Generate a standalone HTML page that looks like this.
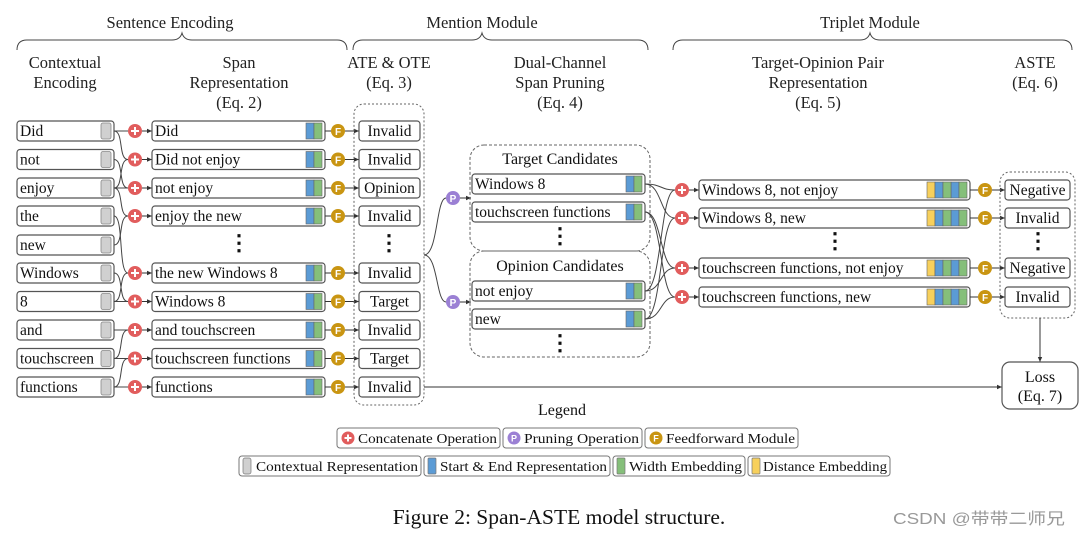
<!DOCTYPE html>
<html><head><meta charset="utf-8"><style>
html,body{margin:0;padding:0;background:#fff;}
svg{display:block;font-family:"Liberation Serif","Times New Roman",serif;}
</style></head><body>
<svg width="1080" height="537" viewBox="0 0 1080 537" xmlns="http://www.w3.org/2000/svg">
<defs>
<marker id="a" markerWidth="6" markerHeight="6" refX="5" refY="3" orient="auto"><path d="M0,0.8 L5,3 L0,5.2z" fill="#333"/></marker>
</defs>
<g font-size="16.5" fill="#222" text-anchor="middle">
<text x="170" y="28">Sentence Encoding</text>
<text x="482" y="28">Mention Module</text>
<text x="870" y="28">Triplet Module</text>
<text x="65" y="68">Contextual</text><text x="65" y="88">Encoding</text>
<text x="239" y="68">Span</text><text x="239" y="88">Representation</text><text x="239" y="108">(Eq. 2)</text>
<text x="389" y="68">ATE &amp; OTE</text><text x="389" y="88">(Eq. 3)</text>
<text x="560" y="68">Dual-Channel</text><text x="560" y="88">Span Pruning</text><text x="560" y="108">(Eq. 4)</text>
<text x="818" y="68">Target-Opinion Pair</text><text x="818" y="88">Representation</text><text x="818" y="108">(Eq. 5)</text>
<text x="1035" y="68">ASTE</text><text x="1035" y="88">(Eq. 6)</text>
</g>
<g fill="none" stroke="#444" stroke-width="1">
<path d="M17,50 Q17,40 27,40 L172,40 Q180,40 182,33 Q184,40 192,40 L337,40 Q347,40 347,50"/>
<path d="M353,50 Q353,40 363,40 L472,40 Q480,40 482,33 Q484,40 492,40 L638,40 Q648,40 648,50"/>
<path d="M673,50 Q673,40 683,40 L860,40 Q868,40 870,33 Q872,40 880,40 L1062,40 Q1072,40 1072,50"/>
</g>
<g stroke="#555" stroke-width="1.2" fill="#fff">
<rect x="17" y="121" width="97" height="20" rx="3"/><rect x="17" y="149.5" width="97" height="20" rx="3"/><rect x="17" y="178" width="97" height="20" rx="3"/><rect x="17" y="206" width="97" height="20" rx="3"/><rect x="17" y="235" width="97" height="20" rx="3"/><rect x="17" y="263" width="97" height="20" rx="3"/><rect x="17" y="291.5" width="97" height="20" rx="3"/><rect x="17" y="320" width="97" height="20" rx="3"/><rect x="17" y="348.5" width="97" height="20" rx="3"/><rect x="17" y="377" width="97" height="20" rx="3"/>
</g>
<g fill="#d0d0d0" stroke="#888" stroke-width="0.8">
<rect x="101" y="123" width="10" height="16" rx="2"/><rect x="101" y="151.5" width="10" height="16" rx="2"/><rect x="101" y="180" width="10" height="16" rx="2"/><rect x="101" y="208" width="10" height="16" rx="2"/><rect x="101" y="237" width="10" height="16" rx="2"/><rect x="101" y="265" width="10" height="16" rx="2"/><rect x="101" y="293.5" width="10" height="16" rx="2"/><rect x="101" y="322" width="10" height="16" rx="2"/><rect x="101" y="350.5" width="10" height="16" rx="2"/><rect x="101" y="379" width="10" height="16" rx="2"/>
</g>
<g font-size="15.5" fill="#111">
<text x="20" y="136">Did</text><text x="20" y="164.5">not</text><text x="20" y="193">enjoy</text><text x="20" y="221">the</text><text x="20" y="250">new</text><text x="20" y="278">Windows</text><text x="20" y="306.5">8</text><text x="20" y="335">and</text><text x="20" y="363.5">touchscreen</text><text x="20" y="392">functions</text>
</g>
<g fill="none" stroke="#444" stroke-width="1">
<path d="M114,131 L128,131"/>
<path d="M114,131 C124,131 118,159.5 128,159.5"/><path d="M114,188 C124,188 118,159.5 128,159.5"/>
<path d="M114,159.5 C124,159.5 118,188 128,188"/><path d="M114,188 L128,188"/>
<path d="M114,188 C124,188 118,216 128,216"/><path d="M114,245 C124,245 118,216 128,216"/>
<path d="M114,216 C124,216 118,273 128,273"/><path d="M114,301.5 C124,301.5 118,273 128,273"/>
<path d="M114,273 C124,273 118,301.5 128,301.5"/><path d="M114,301.5 L128,301.5"/>
<path d="M114,330 L128,330"/><path d="M114,358.5 C124,358.5 118,330 128,330"/>
<path d="M114,358.5 L128,358.5"/><path d="M114,387 C124,387 118,358.5 128,358.5"/>
<path d="M114,387 L128,387"/>
</g>
<g stroke="#333" stroke-width="1" marker-end="url(#a)">
<line x1="142" y1="131" x2="152" y2="131"/><line x1="142" y1="159.5" x2="152" y2="159.5"/><line x1="142" y1="188" x2="152" y2="188"/><line x1="142" y1="216" x2="152" y2="216"/><line x1="142" y1="273" x2="152" y2="273"/><line x1="142" y1="301.5" x2="152" y2="301.5"/><line x1="142" y1="330" x2="152" y2="330"/><line x1="142" y1="358.5" x2="152" y2="358.5"/><line x1="142" y1="387" x2="152" y2="387"/>
</g>
<g fill="#e15d5d">
<circle cx="135" cy="131" r="7"/><circle cx="135" cy="159.5" r="7"/><circle cx="135" cy="188" r="7"/><circle cx="135" cy="216" r="7"/><circle cx="135" cy="273" r="7"/><circle cx="135" cy="301.5" r="7"/><circle cx="135" cy="330" r="7"/><circle cx="135" cy="358.5" r="7"/><circle cx="135" cy="387" r="7"/>
</g>
<g stroke="#fff" stroke-width="2">
<path d="M131,131h8M135,127v8"/><path d="M131,159.5h8M135,155.5v8"/><path d="M131,188h8M135,184v8"/><path d="M131,216h8M135,212v8"/><path d="M131,273h8M135,269v8"/><path d="M131,301.5h8M135,297.5v8"/><path d="M131,330h8M135,326v8"/><path d="M131,358.5h8M135,354.5v8"/><path d="M131,387h8M135,383v8"/>
</g>
<g stroke="#555" stroke-width="1.2" fill="#fff">
<rect x="152" y="121" width="173" height="20" rx="3"/><rect x="152" y="149.5" width="173" height="20" rx="3"/><rect x="152" y="178" width="173" height="20" rx="3"/><rect x="152" y="206" width="173" height="20" rx="3"/><rect x="152" y="263" width="173" height="20" rx="3"/><rect x="152" y="291.5" width="173" height="20" rx="3"/><rect x="152" y="320" width="173" height="20" rx="3"/><rect x="152" y="348.5" width="173" height="20" rx="3"/><rect x="152" y="377" width="173" height="20" rx="3"/>
</g>
<g stroke="#666" stroke-width="0.6">
<g fill="#5b9bd5"><rect x="306" y="123" width="8" height="16"/><rect x="306" y="151.5" width="8" height="16"/><rect x="306" y="180" width="8" height="16"/><rect x="306" y="208" width="8" height="16"/><rect x="306" y="265" width="8" height="16"/><rect x="306" y="293.5" width="8" height="16"/><rect x="306" y="322" width="8" height="16"/><rect x="306" y="350.5" width="8" height="16"/><rect x="306" y="379" width="8" height="16"/></g>
<g fill="#85bf7a"><rect x="314" y="123" width="8" height="16"/><rect x="314" y="151.5" width="8" height="16"/><rect x="314" y="180" width="8" height="16"/><rect x="314" y="208" width="8" height="16"/><rect x="314" y="265" width="8" height="16"/><rect x="314" y="293.5" width="8" height="16"/><rect x="314" y="322" width="8" height="16"/><rect x="314" y="350.5" width="8" height="16"/><rect x="314" y="379" width="8" height="16"/></g>
</g>
<g font-size="15.5" fill="#111">
<text x="155" y="136">Did</text><text x="155" y="164.5">Did not enjoy</text><text x="155" y="193">not enjoy</text><text x="155" y="221">enjoy the new</text><text x="155" y="278">the new Windows 8</text><text x="155" y="306.5">Windows 8</text><text x="155" y="335">and touchscreen</text><text x="155" y="363.5">touchscreen functions</text><text x="155" y="392">functions</text>
</g>
<g font-size="22" font-weight="bold" text-anchor="middle" fill="#111"><text x="239" y="250">⋮</text><text x="389" y="250">⋮</text><text x="560" y="243">⋮</text><text x="560" y="350">⋮</text><text x="835" y="248">⋮</text><text x="1038" y="248">⋮</text></g>
<g stroke="#333" stroke-width="1">
<path d="M325,131h20M325,159.5h20M325,188h20M325,216h20M325,273h20M325,301.5h20M325,330h20M325,358.5h20M325,387h20"/>
</g>
<g stroke="#333" stroke-width="1" marker-end="url(#a)">
<line x1="345" y1="131" x2="359" y2="131"/><line x1="345" y1="159.5" x2="359" y2="159.5"/><line x1="345" y1="188" x2="359" y2="188"/><line x1="345" y1="216" x2="359" y2="216"/><line x1="345" y1="273" x2="359" y2="273"/><line x1="345" y1="301.5" x2="359" y2="301.5"/><line x1="345" y1="330" x2="359" y2="330"/><line x1="345" y1="358.5" x2="359" y2="358.5"/><line x1="345" y1="387" x2="359" y2="387"/>
</g>
<g fill="#c99512">
<circle cx="338" cy="131" r="7"/><circle cx="338" cy="159.5" r="7"/><circle cx="338" cy="188" r="7"/><circle cx="338" cy="216" r="7"/><circle cx="338" cy="273" r="7"/><circle cx="338" cy="301.5" r="7"/><circle cx="338" cy="330" r="7"/><circle cx="338" cy="358.5" r="7"/><circle cx="338" cy="387" r="7"/>
<circle cx="985" cy="190" r="7"/><circle cx="985" cy="218" r="7"/><circle cx="985" cy="268" r="7"/><circle cx="985" cy="297" r="7"/>
</g>
<g fill="#fff" font-size="10" font-family="Liberation Sans, sans-serif" font-weight="bold" text-anchor="middle">
<text x="338" y="135">F</text><text x="338" y="163.5">F</text><text x="338" y="192">F</text><text x="338" y="220">F</text><text x="338" y="277">F</text><text x="338" y="305.5">F</text><text x="338" y="334">F</text><text x="338" y="362.5">F</text><text x="338" y="391">F</text>
<text x="985" y="194">F</text><text x="985" y="222">F</text><text x="985" y="272">F</text><text x="985" y="301">F</text>
</g>
<rect x="354" y="104" width="70" height="301" rx="10" fill="none" stroke="#666" stroke-dasharray="2,2"/>
<g stroke="#555" stroke-width="1.2" fill="#fff">
<rect x="359" y="121" width="61" height="20" rx="3"/><rect x="359" y="149.5" width="61" height="20" rx="3"/><rect x="359" y="178" width="61" height="20" rx="3"/><rect x="359" y="206" width="61" height="20" rx="3"/><rect x="359" y="263" width="61" height="20" rx="3"/><rect x="359" y="291.5" width="61" height="20" rx="3"/><rect x="359" y="320" width="61" height="20" rx="3"/><rect x="359" y="348.5" width="61" height="20" rx="3"/><rect x="359" y="377" width="61" height="20" rx="3"/>
</g>
<g font-size="15.5" fill="#111" text-anchor="middle">
<text x="389.5" y="136">Invalid</text><text x="389.5" y="164.5">Invalid</text><text x="389.5" y="193">Opinion</text><text x="389.5" y="221">Invalid</text><text x="389.5" y="278">Invalid</text><text x="389.5" y="306.5">Target</text><text x="389.5" y="335">Invalid</text><text x="389.5" y="363.5">Target</text><text x="389.5" y="392">Invalid</text>
</g>
<g fill="none" stroke="#444" stroke-width="1">
<path d="M424,255 C438,255 436,198 446,198"/><path d="M424,255 C438,255 436,302 446,302"/>
</g>
<g stroke="#333" marker-end="url(#a)"><line x1="460" y1="198" x2="471" y2="198"/><line x1="460" y1="302" x2="471" y2="302"/></g>
<circle cx="453" cy="198" r="7" fill="#9b80d4"/><circle cx="453" cy="302" r="7" fill="#9b80d4"/>
<g fill="#fff" font-size="10" font-family="Liberation Sans, sans-serif" font-weight="bold" text-anchor="middle"><text x="453" y="202">P</text><text x="453" y="306">P</text></g>
<rect x="470" y="145" width="180" height="106" rx="14" fill="none" stroke="#666" stroke-dasharray="3,2"/>
<rect x="470" y="251" width="180" height="106" rx="14" fill="none" stroke="#666" stroke-dasharray="3,2"/>
<g font-size="16" fill="#111" text-anchor="middle"><text x="560" y="164">Target Candidates</text><text x="560" y="271">Opinion Candidates</text></g>
<g stroke="#555" stroke-width="1.2" fill="#fff">
<rect x="472" y="174" width="173" height="20" rx="3"/><rect x="472" y="202" width="173" height="20" rx="3"/><rect x="472" y="281" width="173" height="20" rx="3"/><rect x="472" y="309" width="173" height="20" rx="3"/>
</g>
<g stroke="#666" stroke-width="0.6">
<g fill="#5b9bd5"><rect x="626" y="176" width="8" height="16"/><rect x="626" y="204" width="8" height="16"/><rect x="626" y="283" width="8" height="16"/><rect x="626" y="311" width="8" height="16"/></g>
<g fill="#85bf7a"><rect x="634" y="176" width="8" height="16"/><rect x="634" y="204" width="8" height="16"/><rect x="634" y="283" width="8" height="16"/><rect x="634" y="311" width="8" height="16"/></g>
</g>
<g font-size="15.5" fill="#111"><text x="475" y="189">Windows 8</text><text x="475" y="217">touchscreen functions</text><text x="475" y="296">not enjoy</text><text x="475" y="324">new</text></g>
<g fill="none" stroke="#444" stroke-width="1">
<path d="M645,184 C662,184 660,190 675,190"/><path d="M645,184 C662,184 660,218 675,218"/>
<path d="M645,212 C662,212 660,268 675,268"/><path d="M645,212 C662,212 660,297 675,297"/>
<path d="M645,291 C662,291 660,190 675,190"/><path d="M645,291 C662,291 660,268 675,268"/>
<path d="M645,319 C662,319 660,218 675,218"/><path d="M645,319 C662,319 660,297 675,297"/>
</g>
<g stroke="#333" marker-end="url(#a)"><line x1="689" y1="190" x2="699" y2="190"/><line x1="689" y1="218" x2="699" y2="218"/><line x1="689" y1="268" x2="699" y2="268"/><line x1="689" y1="297" x2="699" y2="297"/></g>
<g fill="#e15d5d"><circle cx="682" cy="190" r="7"/><circle cx="682" cy="218" r="7"/><circle cx="682" cy="268" r="7"/><circle cx="682" cy="297" r="7"/></g>
<g stroke="#fff" stroke-width="2"><path d="M678,190h8M682,186v8"/><path d="M678,218h8M682,214v8"/><path d="M678,268h8M682,264v8"/><path d="M678,297h8M682,293v8"/></g>
<g stroke="#555" stroke-width="1.2" fill="#fff">
<rect x="699" y="180" width="271" height="20" rx="3"/><rect x="699" y="208" width="271" height="20" rx="3"/><rect x="699" y="258" width="271" height="20" rx="3"/><rect x="699" y="287" width="271" height="20" rx="3"/>
</g>
<g stroke="#666" stroke-width="0.6">
<g fill="#f7d05c"><rect x="927" y="182" width="8" height="16"/><rect x="927" y="210" width="8" height="16"/><rect x="927" y="260" width="8" height="16"/><rect x="927" y="289" width="8" height="16"/></g>
<g fill="#5b9bd5"><rect x="935" y="182" width="8" height="16"/><rect x="935" y="210" width="8" height="16"/><rect x="935" y="260" width="8" height="16"/><rect x="935" y="289" width="8" height="16"/><rect x="951" y="182" width="8" height="16"/><rect x="951" y="210" width="8" height="16"/><rect x="951" y="260" width="8" height="16"/><rect x="951" y="289" width="8" height="16"/></g>
<g fill="#85bf7a"><rect x="943" y="182" width="8" height="16"/><rect x="943" y="210" width="8" height="16"/><rect x="943" y="260" width="8" height="16"/><rect x="943" y="289" width="8" height="16"/><rect x="959" y="182" width="8" height="16"/><rect x="959" y="210" width="8" height="16"/><rect x="959" y="260" width="8" height="16"/><rect x="959" y="289" width="8" height="16"/></g>
</g>
<g font-size="15.5" fill="#111"><text x="702" y="195">Windows 8, not enjoy</text><text x="702" y="223">Windows 8, new</text><text x="702" y="273">touchscreen functions, not enjoy</text><text x="702" y="302">touchscreen functions, new</text></g>
<g stroke="#333"><path d="M970,190h8M970,218h8M970,268h8M970,297h8"/></g>
<g stroke="#333" marker-end="url(#a)"><line x1="992" y1="190" x2="1005" y2="190"/><line x1="992" y1="218" x2="1005" y2="218"/><line x1="992" y1="268" x2="1005" y2="268"/><line x1="992" y1="297" x2="1005" y2="297"/></g>
<rect x="1000" y="172" width="75" height="146" rx="10" fill="none" stroke="#666" stroke-dasharray="2,2"/>
<g stroke="#555" stroke-width="1.2" fill="#fff">
<rect x="1005" y="180" width="65" height="20" rx="3"/><rect x="1005" y="208" width="65" height="20" rx="3"/><rect x="1005" y="258" width="65" height="20" rx="3"/><rect x="1005" y="287" width="65" height="20" rx="3"/>
</g>
<g font-size="15.5" fill="#111" text-anchor="middle"><text x="1037.5" y="195">Negative</text><text x="1037.5" y="223">Invalid</text><text x="1037.5" y="273">Negative</text><text x="1037.5" y="302">Invalid</text></g>
<g stroke="#333" marker-end="url(#a)"><line x1="1040" y1="318" x2="1040" y2="362"/><line x1="424" y1="387" x2="1002" y2="387"/></g>
<rect x="1002" y="362" width="76" height="47" rx="8" fill="#fff" stroke="#555" stroke-width="1.2"/>
<g font-size="16" fill="#111" text-anchor="middle"><text x="1040" y="382">Loss</text><text x="1040" y="401">(Eq. 7)</text></g>
<text x="562" y="415" font-size="16" text-anchor="middle" fill="#111">Legend</text>
<g stroke="#777" fill="#fff" stroke-width="1">
<rect x="337" y="428" width="163" height="20" rx="3"/><rect x="503" y="428" width="139" height="20" rx="3"/><rect x="645" y="428" width="153" height="20" rx="3"/>
<rect x="239" y="456" width="182" height="20" rx="3"/><rect x="424" y="456" width="186" height="20" rx="3"/><rect x="613" y="456" width="132" height="20" rx="3"/><rect x="748" y="456" width="142" height="20" rx="3"/>
</g>
<circle cx="348" cy="438" r="6.5" fill="#e15d5d"/><path d="M344.5,438h7M348,434.5v7" stroke="#fff" stroke-width="2"/>
<circle cx="514" cy="438" r="6.5" fill="#9b80d4"/><text x="514" y="441.5" fill="#fff" font-size="9" font-weight="bold" font-family="Liberation Sans,sans-serif" text-anchor="middle">P</text>
<circle cx="656" cy="438" r="6.5" fill="#c99512"/><text x="656" y="441.5" fill="#fff" font-size="9" font-weight="bold" font-family="Liberation Sans,sans-serif" text-anchor="middle">F</text>
<g stroke="#777" stroke-width="0.7"><rect x="243" y="458" width="8" height="16" rx="2" fill="#d0d0d0"/><rect x="428" y="458" width="8" height="16" rx="1" fill="#5b9bd5"/><rect x="617" y="458" width="8" height="16" rx="1" fill="#85bf7a"/><rect x="752" y="458" width="8" height="16" rx="1" fill="#f7d05c"/></g>
<g font-size="14" fill="#111">
<text x="358" y="443" textLength="139" lengthAdjust="spacingAndGlyphs">Concatenate Operation</text>
<text x="524" y="443" textLength="115" lengthAdjust="spacingAndGlyphs">Pruning Operation</text>
<text x="666" y="443" textLength="129" lengthAdjust="spacingAndGlyphs">Feedforward Module</text>
<text x="256" y="471" textLength="162" lengthAdjust="spacingAndGlyphs">Contextual Representation</text>
<text x="440" y="471" textLength="167" lengthAdjust="spacingAndGlyphs">Start &amp; End Representation</text>
<text x="629" y="471" textLength="113" lengthAdjust="spacingAndGlyphs">Width Embedding</text>
<text x="763" y="471" textLength="124" lengthAdjust="spacingAndGlyphs">Distance Embedding</text>
</g>
<text x="559" y="524" font-size="21.5" text-anchor="middle" fill="#111">Figure 2: Span-ASTE model structure.</text>
<text x="893" y="524" font-size="16" fill="#999" textLength="172" lengthAdjust="spacingAndGlyphs" font-family="Liberation Sans,'Noto Sans CJK SC',sans-serif">CSDN @带带二师兄</text>
</svg>
</body></html>
